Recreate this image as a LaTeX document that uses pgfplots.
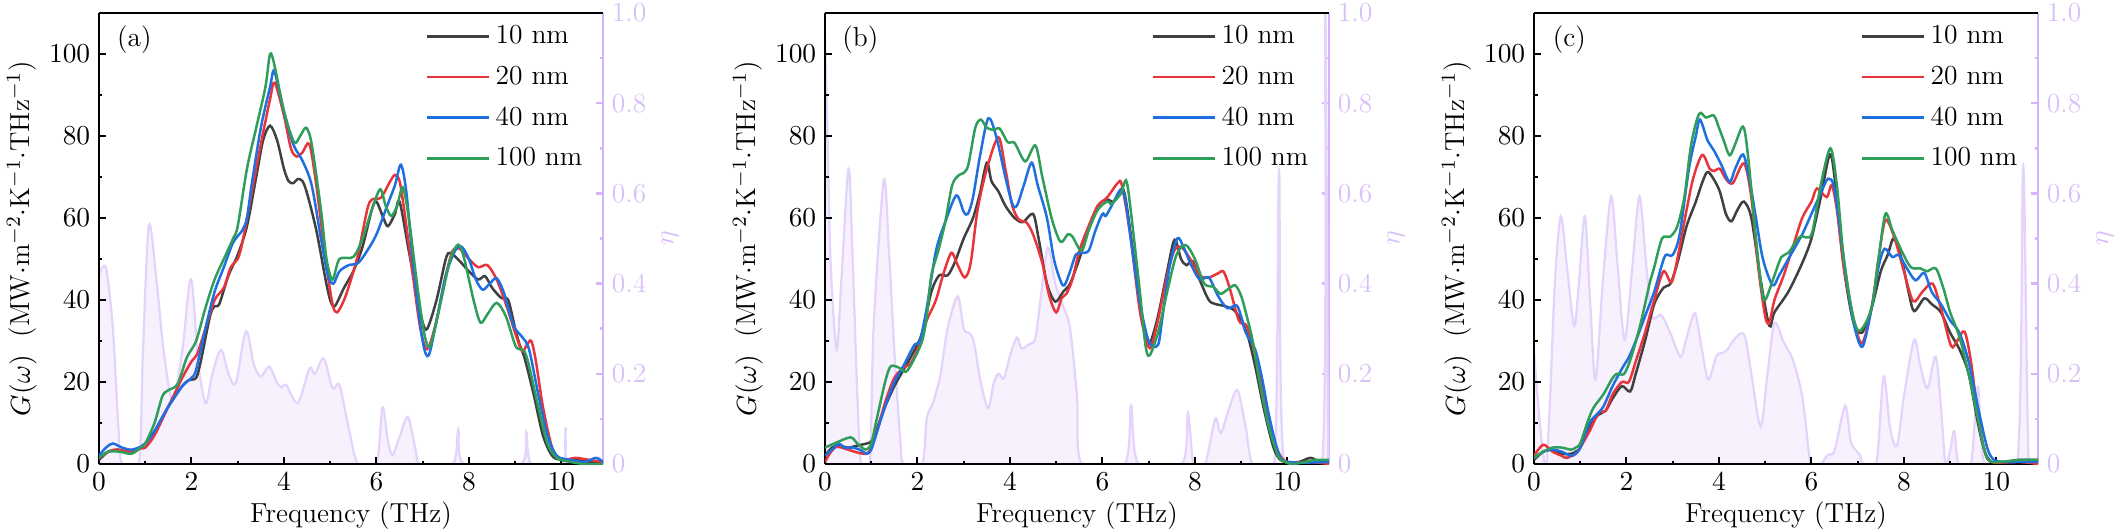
\documentclass[border=0pt]{standalone}
\usepackage{pgfplots}
\pgfplotsset{compat=1.18}
\definecolor{cblack}{HTML}{404040}
\definecolor{cred}{HTML}{E8353B}
\definecolor{cblue}{HTML}{1F6FE0}
\definecolor{cgreen}{HTML}{2E9E5A}
\definecolor{etaline}{HTML}{E4D4FB}
\definecolor{etafill}{HTML}{F7F1FE}
\definecolor{etaaxis}{HTML}{D6B4FC}
\definecolor{etalab}{HTML}{D9BFF9}
\pgfplotsset{
  gbase/.style={width=201.6pt,height=180.4pt,scale only axis,
    xmin=0,xmax=10.9, tick align=inside, anchor=south west,
    major tick length=2.9pt, minor tick length=1.4pt,
    every tick label/.append style={font=\fontsize{11}{13}\selectfont},
    label style={font=\fontsize{11}{13}\selectfont}},
  etaax/.style={gbase, ymin=0,ymax=1, axis x line=none, axis y line*=right,
    y axis line style={etaaxis, line width=1pt},
    ytick={0,0.2,0.4,0.6,0.8,1.0}, yticklabels={0,0.2,0.4,0.6,0.8,1.0},
    minor ytick={0.1,0.3,0.5,0.7,0.9},
    yticklabel style={text=etalab},
    every tick/.style={etaaxis, line width=1pt},
    ylabel={$\eta$}, ylabel style={text=etalab, at={(axis description cs:1.133,0.5)}, anchor=center}},
  gax/.style={gbase, ymin=0,ymax=110, axis y line*=left, axis x line*=box,
    xtick pos=left, ytick pos=left,
    axis line style={black, line width=1pt},
    every tick/.style={black, line width=0.8pt},
    xtick={0,2,4,6,8,10}, minor xtick={1,3,5,7,9},
    ytick={0,20,40,60,80,100}, minor ytick={10,30,50,70,90},
    xlabel={Frequency (THz)}, xlabel style={at={(axis description cs:0.5,-0.115)}, anchor=center},
    ylabel={$G(\omega)$\ \ (MW$\cdot$m$^{-2}\cdot$K$^{-1}\cdot$THz$^{-1}$)},
    ylabel style={at={(axis description cs:-0.153,0.5)}, anchor=center},
    legend style={draw=none, fill=none, at={(0.975,0.99)}, anchor=north east,
      font=\fontsize{11}{13}\selectfont, row sep=3.4pt, inner sep=1pt},
    legend cell align=left,
    legend image code/.code={\draw[#1] (-4pt,0pt) -- (21pt,0pt);}},
  lb/.style={cblack, line width=1pt, smooth},
  lr/.style={cred, line width=1pt, smooth},
  lbl/.style={cblue, line width=1pt, smooth},
  lg/.style={cgreen, line width=1pt, smooth},
  le/.style={etaline, line width=0.9pt, fill=etafill, smooth},
}
\begin{document}
\begin{tikzpicture}
\useasboundingbox (0,0) rectangle (849.2pt,212.4pt);
% ================= (a) =================
\begin{axis}[etaax, at={(39.6pt,26.8pt)}]
\addplot[le] coordinates {(0,0.42)(0.15,0.435)(0.3,0.3)(0.42,0.08)(0.5,0)(0.86,0)(0.95,0.25)(1.08,0.53)(1.25,0.4)(1.4,0.25)(1.59,0.14)(1.8,0.25)(1.99,0.41)(2.15,0.22)(2.31,0.135)(2.45,0.2)(2.64,0.253)(2.8,0.2)(2.96,0.18)(3.18,0.295)(3.35,0.22)(3.5,0.194)(3.68,0.216)(3.85,0.18)(3.94,0.17)(4.05,0.175)(4.3,0.135)(4.55,0.212)(4.67,0.2)(4.86,0.234)(5.05,0.168)(5.2,0.175)(5.4,0.08)(5.6,0)(6.0,0)(6.13,0.126)(6.25,0.05)(6.35,0.02)(6.5,0.06)(6.68,0.104)(6.85,0.03)(6.95,0)(7.65,0)(7.77,0.076)(7.9,0)(9.12,0)(9.24,0.07)(9.35,0)(10.03,0)(10.09,0.081)(10.15,0)(10.9,0)} \closedcycle;
\end{axis}
\begin{axis}[gax, at={(39.6pt,26.8pt)}]
\addplot[lb] coordinates {(0,1)(0.2,3)(0.4,3.5)(0.7,2.8)(0.9,4)(1.0,5)(1.2,8)(1.5,14)(1.8,19)(1.95,20.5)(2.1,21)(2.2,25)(2.4,36)(2.5,38.5)(2.6,39)(2.8,46)(3.0,51)(3.2,58)(3.4,70)(3.55,79)(3.7,82.5)(3.85,79)(4.0,72)(4.1,69)(4.2,68.5)(4.3,69.5)(4.4,69)(4.5,66)(4.7,57)(4.9,45)(5.0,40)(5.1,38.5)(5.3,43)(5.5,47)(5.7,53)(5.9,62)(6.0,64)(6.15,60)(6.25,58)(6.4,61)(6.5,64)(6.7,52)(6.9,40)(7.0,34.5)(7.1,33)(7.3,40)(7.5,50)(7.6,51.5)(7.8,49.5)(8.0,47)(8.2,45)(8.35,45.8)(8.5,43)(8.7,40.5)(8.85,40)(9.0,33)(9.1,29)(9.2,26)(9.4,17)(9.6,7)(9.8,2)(10.0,1)(10.3,1)(10.6,0.5)(10.9,0.5)};
\addlegendentry{10 nm}
\addplot[lr] coordinates {(0,1.5)(0.2,3)(0.4,3.5)(0.7,3)(0.9,3.8)(1.0,4)(1.2,7)(1.5,14)(1.8,21)(2.0,25)(2.13,27)(2.3,33)(2.5,40)(2.7,43)(2.85,48)(3.0,50)(3.1,54)(3.3,66)(3.5,78)(3.7,89)(3.8,93)(4.0,85)(4.15,77)(4.27,75)(4.4,76)(4.55,78)(4.7,68)(4.9,50)(5.05,39)(5.15,37)(5.3,40)(5.45,45)(5.6,51)(5.8,62)(5.9,64.5)(6.1,65)(6.3,69)(6.4,70.5)(6.5,69)(6.6,62)(6.8,45)(6.95,33)(7.1,28)(7.3,35)(7.5,46)(7.65,52)(7.8,52.5)(8.0,50)(8.2,48)(8.4,48.5)(8.6,45)(8.8,39)(9.0,32)(9.15,27.5)(9.25,29)(9.35,30)(9.45,25)(9.6,14)(9.8,4)(10.0,1)(10.3,1.5)(10.6,1)(10.9,0.5)};
\addlegendentry{20 nm}
\addplot[lbl] coordinates {(0,2)(0.15,4)(0.3,5)(0.5,4)(0.7,3.5)(0.9,4.2)(1.0,5)(1.2,8)(1.5,14)(1.8,19)(2.0,21)(2.1,23)(2.3,33)(2.5,42)(2.7,48)(2.9,54)(3.1,57)(3.2,60)(3.3,68)(3.5,82)(3.7,92)(3.78,96)(3.9,91)(4.0,86)(4.2,78)(4.4,74)(4.6,68)(4.8,55)(4.95,46)(5.07,44)(5.2,47)(5.4,48.5)(5.6,49)(5.8,52)(6.0,56)(6.2,62)(6.4,68)(6.53,73)(6.65,66)(6.8,48)(7.0,30)(7.13,26.5)(7.3,35)(7.5,46)(7.7,52)(7.84,53)(8.0,50)(8.15,45)(8.3,42.5)(8.45,44)(8.6,45.3)(8.75,42)(8.9,36)(9.0,33)(9.15,31)(9.3,28)(9.5,17)(9.7,7)(9.9,2)(10.2,1)(10.5,0.5)(10.75,1.5)(10.9,0.5)};
\addlegendentry{40 nm}
\addplot[lg] coordinates {(0,1.5)(0.2,3)(0.45,3)(0.7,2.5)(0.9,4)(1.0,5)(1.2,10)(1.37,16.5)(1.5,18)(1.7,19.5)(1.9,26)(2.1,30)(2.3,38)(2.5,45)(2.7,50)(2.9,55)(3.0,58)(3.2,72)(3.4,82)(3.6,92)(3.7,100)(3.8,97)(4.0,86)(4.22,78.5)(4.35,80)(4.48,82)(4.6,78)(4.8,62)(4.92,50)(5.05,45)(5.2,50)(5.5,50.5)(5.7,55)(5.9,62)(6.08,67)(6.2,63)(6.32,60.5)(6.45,63)(6.57,67.5)(6.7,60)(6.9,42)(7.05,31)(7.17,29)(7.4,40)(7.6,50)(7.77,53.5)(7.9,50)(8.1,40)(8.25,34.5)(8.4,36.5)(8.6,39.3)(8.8,36)(9.0,29)(9.1,28)(9.2,27.5)(9.3,24)(9.5,14)(9.7,5)(9.9,1.5)(10.2,0.5)(10.5,0)(10.9,0)};
\addlegendentry{100 nm}
\node[font=\fontsize{11}{13}\selectfont] at (rel axis cs:0.07,0.942) {(a)};
\end{axis}
% ================= (b) =================
\begin{axis}[etaax, at={(330pt,26.8pt)}]
\addplot[le] coordinates {(0,0.95)(0.05,0.75)(0.12,0.45)(0.25,0.253)(0.35,0.4)(0.51,0.655)(0.6,0.45)(0.7,0.15)(0.78,0)(0.97,0)(1.05,0.3)(1.27,0.629)(1.38,0.48)(1.5,0.25)(1.63,0.05)(1.7,0)(2.1,0)(2.2,0.1)(2.35,0.14)(2.5,0.2)(2.65,0.3)(2.87,0.372)(3.0,0.3)(3.12,0.29)(3.22,0.27)(3.37,0.18)(3.53,0.124)(3.65,0.18)(3.75,0.2)(3.87,0.19)(4.0,0.24)(4.15,0.28)(4.25,0.256)(4.4,0.265)(4.55,0.28)(4.68,0.38)(4.82,0.48)(4.98,0.4)(5.15,0.35)(5.3,0.3)(5.45,0.15)(5.55,0)(6.48,0)(6.62,0.13)(6.78,0)(7.72,0)(7.85,0.113)(7.97,0)(8.22,0)(8.44,0.1)(8.56,0.068)(8.73,0.12)(8.92,0.164)(9.1,0.08)(9.25,0)(9.72,0)(9.82,0.65)(9.93,0)(10.75,0)(10.82,1.0)(10.88,0)(10.9,0)} \closedcycle;
\end{axis}
\begin{axis}[gax, at={(330pt,26.8pt)}]
\addplot[lb] coordinates {(0,2)(0.15,4)(0.3,4.5)(0.5,4)(0.7,4.5)(0.9,5)(1.0,5.5)(1.1,8)(1.3,14)(1.5,19)(1.7,23)(1.9,27)(2.1,32)(2.3,42)(2.47,46)(2.65,46)(2.8,49)(3.0,55)(3.2,60)(3.35,66)(3.5,73.5)(3.6,69)(3.75,66.5)(3.9,63)(4.1,60)(4.28,59)(4.5,61)(4.62,55)(4.8,44)(4.98,39.6)(5.15,42)(5.3,44)(5.5,50)(5.7,57)(5.9,63)(6.1,64.5)(6.25,64)(6.45,67)(6.6,57)(6.8,40)(6.95,31)(7.03,29.5)(7.2,36)(7.4,47)(7.56,54.7)(7.7,50)(7.82,48.5)(7.95,49.5)(8.1,45)(8.3,40)(8.45,39)(8.65,38.5)(8.85,37.5)(9.0,35)(9.15,31)(9.3,24)(9.5,13)(9.7,4)(9.85,1)(10.0,0.5)(10.25,0.5)(10.5,1.5)(10.7,0.5)(10.9,0.5)};
\addlegendentry{10 nm}
\addplot[lr] coordinates {(0,0.5)(0.1,2.5)(0.25,4.2)(0.5,3.5)(0.7,2.8)(0.9,2.5)(1.0,4)(1.1,7)(1.3,15)(1.5,21)(1.7,23.5)(1.85,24.5)(2.0,28)(2.2,35)(2.4,40)(2.55,46)(2.73,51.5)(2.85,49)(3.02,45.5)(3.15,49)(3.3,62)(3.5,72)(3.75,79.7)(3.9,72)(4.05,63)(4.2,59.5)(4.35,59)(4.5,56)(4.7,49)(4.85,41)(5.0,37)(5.12,40.5)(5.22,41.5)(5.35,45)(5.5,52)(5.7,58)(5.9,63)(6.1,65)(6.33,68.5)(6.42,68)(6.6,56)(6.8,38)(6.95,30)(7.05,28.5)(7.2,35)(7.4,46)(7.55,52)(7.7,53)(7.9,50)(8.1,46)(8.3,45.5)(8.5,46.5)(8.62,46.9)(8.75,43)(8.95,35)(9.1,34)(9.2,31)(9.4,22)(9.6,10)(9.8,3)(10.0,0.5)(10.5,0.5)(10.9,0)};
\addlegendentry{20 nm}
\addplot[lbl] coordinates {(0,2)(0.2,4)(0.3,5)(0.42,4)(0.6,4)(0.75,3.5)(0.91,2.5)(1.0,3.5)(1.1,7)(1.3,14)(1.5,20)(1.7,24)(1.93,29)(2.05,30)(2.2,38)(2.4,52)(2.6,59)(2.84,65.5)(3.0,61.5)(3.09,61)(3.2,65)(3.35,75)(3.53,84.3)(3.7,80)(3.9,70)(4.05,63.5)(4.15,63)(4.3,68)(4.47,73.5)(4.6,68)(4.8,60)(4.95,50)(5.1,44.5)(5.18,43.6)(5.3,47)(5.42,51)(5.53,51.5)(5.7,52)(5.85,57)(6.0,61)(6.07,60.5)(6.2,63)(6.4,67)(6.5,64)(6.6,56)(6.8,40)(7.0,30)(7.2,29)(7.3,36)(7.45,48)(7.62,55)(7.75,53)(7.9,49)(8.1,45)(8.3,45.5)(8.5,41)(8.7,38)(8.9,38.7)(9.0,36)(9.1,32)(9.3,28)(9.45,21)(9.6,12)(9.8,3)(10.0,0.5)(10.9,0.5)};
\addlegendentry{40 nm}
\addplot[lg] coordinates {(0,4)(0.2,5)(0.55,6.5)(0.7,5)(0.88,3.5)(1.0,5)(1.1,10)(1.3,20)(1.42,23.8)(1.6,23.5)(1.75,22.5)(1.9,25)(2.1,30)(2.2,36)(2.3,46)(2.45,52)(2.6,59)(2.75,68)(2.9,70.5)(3.0,71)(3.1,73)(3.25,82)(3.37,84)(3.5,82)(3.65,81.5)(3.78,81.8)(3.95,78.5)(4.1,78.3)(4.33,73.8)(4.55,77.7)(4.7,70)(4.9,60)(5.05,55)(5.13,54.2)(5.25,56)(5.35,55.5)(5.55,52)(5.7,57)(5.9,62)(6.1,64)(6.2,63.5)(6.4,66)(6.51,69.2)(6.6,63)(6.8,43)(6.93,29)(7.02,26.5)(7.2,32)(7.4,42)(7.6,51)(7.8,53.4)(8.0,50)(8.2,44)(8.4,43.2)(8.55,41.5)(8.7,42.5)(8.87,43.6)(9.0,41)(9.1,37)(9.25,30)(9.4,20)(9.6,9)(9.8,2)(9.95,0.5)(10.1,0)(10.4,0.5)(10.6,1)(10.9,1)};
\addlegendentry{100 nm}
\node[font=\fontsize{11}{13}\selectfont] at (rel axis cs:0.07,0.942) {(b)};
\end{axis}
% ================= (c) =================
\begin{axis}[etaax, at={(613.6pt,26.8pt)}]
\addplot[le] coordinates {(0,0.25)(0.1,0.12)(0.2,0.02)(0.27,0)(0.35,0.15)(0.45,0.4)(0.58,0.549)(0.72,0.43)(0.87,0.306)(0.97,0.4)(1.1,0.55)(1.22,0.35)(1.33,0.187)(1.5,0.42)(1.67,0.594)(1.8,0.45)(1.96,0.275)(2.12,0.43)(2.28,0.594)(2.42,0.45)(2.55,0.328)(2.75,0.33)(2.95,0.29)(3.17,0.238)(3.3,0.28)(3.48,0.334)(3.62,0.26)(3.77,0.187)(3.95,0.24)(4.15,0.25)(4.36,0.28)(4.55,0.286)(4.7,0.2)(4.9,0.083)(5.05,0.2)(5.2,0.312)(5.4,0.27)(5.6,0.23)(5.8,0.15)(5.95,0.02)(6.0,0)(6.2,0)(6.35,0.02)(6.5,0.03)(6.73,0.129)(6.85,0.05)(6.98,0.028)(7.05,0.02)(7.12,0)(7.4,0)(7.56,0.194)(7.7,0.08)(7.85,0.04)(8.0,0.15)(8.22,0.275)(8.35,0.22)(8.51,0.168)(8.69,0.238)(8.82,0.1)(8.9,0)(9.0,0.03)(9.09,0.073)(9.18,0)(9.45,0)(9.6,0.17)(9.75,0)(10.45,0)(10.58,0.66)(10.7,0)(10.9,0)} \closedcycle;
\end{axis}
\begin{axis}[gax, at={(613.6pt,26.8pt)}]
\addplot[lb] coordinates {(0,1)(0.2,3)(0.4,3.5)(0.6,2.5)(0.8,2.5)(0.9,3)(1.0,4)(1.2,9)(1.39,12)(1.55,13)(1.7,16)(1.9,19)(2.08,17.7)(2.2,22)(2.4,30)(2.6,39)(2.8,43)(2.95,44)(3.1,49)(3.3,58)(3.5,64)(3.65,69)(3.77,71.2)(4.0,67)(4.15,61)(4.27,59.2)(4.4,62)(4.54,64)(4.7,60)(4.9,45)(5.09,33.7)(5.2,37)(5.5,42)(5.8,49)(6.0,55)(6.2,65)(6.4,75.5)(6.52,68)(6.7,48)(6.9,35)(7.09,32)(7.3,38)(7.5,47)(7.65,51)(7.78,55)(7.95,50)(8.1,42)(8.22,37.3)(8.44,40.4)(8.6,39)(8.8,37)(9.0,32)(9.2,28)(9.4,22)(9.6,10)(9.75,3)(9.9,0.5)(10.2,0.5)(10.5,1)(10.9,1)};
\addlegendentry{10 nm}
\addplot[lr] coordinates {(0,2)(0.2,4.7)(0.4,3)(0.6,2)(0.7,1.5)(0.9,2.5)(1.0,4)(1.2,8)(1.4,12.5)(1.55,13)(1.7,17)(1.9,20)(2.05,20)(2.2,25)(2.4,32)(2.6,40)(2.8,47)(2.97,44.3)(3.1,50)(3.3,62)(3.45,70)(3.64,75.4)(3.8,72)(3.9,71.5)(4.02,72)(4.15,69.5)(4.3,68.5)(4.54,73.3)(4.7,65)(4.85,48)(5.0,36)(5.09,34.5)(5.2,40)(5.4,46)(5.6,53)(5.8,60)(6.0,64)(6.12,67.2)(6.33,65.1)(6.44,68)(6.55,62)(6.7,48)(6.9,36)(7.09,29.4)(7.3,38)(7.45,50)(7.6,59.5)(7.8,55)(8.0,47)(8.2,39.7)(8.4,42)(8.62,44)(8.8,38)(9.02,28.8)(9.15,30)(9.31,32.3)(9.45,25)(9.6,12)(9.75,3)(9.9,0.5)(10.5,0.5)(10.9,0)};
\addlegendentry{20 nm}
\addplot[lbl] coordinates {(0,1.5)(0.2,3)(0.4,3.5)(0.6,3)(0.8,2)(0.9,2.5)(1.0,4)(1.2,10)(1.35,12)(1.5,14)(1.7,19)(1.93,23.8)(2.05,26)(2.2,30)(2.4,36)(2.6,42)(2.75,48)(2.85,51)(3.0,51)(3.15,56)(3.35,72)(3.5,80)(3.59,84)(3.75,79)(3.89,76.5)(4.05,73)(4.23,68.8)(4.35,72)(4.52,75.5)(4.65,70)(4.8,60)(4.95,50)(5.16,43.6)(5.3,46)(5.5,50)(5.8,56)(6.0,61)(6.2,66)(6.36,69.6)(6.5,67)(6.7,50)(6.9,35)(7.1,28.6)(7.3,38)(7.45,48)(7.58,52.5)(7.75,50.5)(7.89,51)(8.05,48)(8.25,44.8)(8.44,46.6)(8.6,42)(8.8,39)(9.0,35)(9.2,32)(9.4,25)(9.6,14)(9.8,4)(9.95,1)(10.2,0.5)(10.5,0.5)(10.9,0.5)};
\addlegendentry{40 nm}
\addplot[lg] coordinates {(0,1.5)(0.2,3)(0.4,4)(0.6,4)(0.8,3.5)(0.9,4)(1.0,5)(1.15,10)(1.28,13.6)(1.5,17)(1.7,21)(1.8,22)(1.95,22)(2.1,26)(2.3,34)(2.5,44)(2.6,48)(2.77,55)(2.95,55.5)(3.1,58)(3.25,65)(3.4,78)(3.57,85.4)(3.72,84.5)(3.89,85)(4.0,82)(4.1,79)(4.23,75.3)(4.35,78)(4.52,82.3)(4.62,76)(4.8,55)(4.92,43)(5.0,40)(5.2,46)(5.35,50.5)(5.5,51.5)(5.75,55.4)(6.0,56)(6.2,68)(6.41,77)(6.55,68)(6.7,50)(6.9,36)(7.05,32.5)(7.3,38)(7.45,50)(7.6,61)(7.75,57)(7.95,52)(8.15,48)(8.36,47.7)(8.5,47)(8.69,47.7)(8.85,43)(9.0,37)(9.2,31)(9.4,22)(9.6,11)(9.75,3)(9.9,0.5)(10.5,1)(10.9,1)};
\addlegendentry{100 nm}
\node[font=\fontsize{11}{13}\selectfont] at (rel axis cs:0.07,0.942) {(c)};
\end{axis}
\end{tikzpicture}
\end{document}
